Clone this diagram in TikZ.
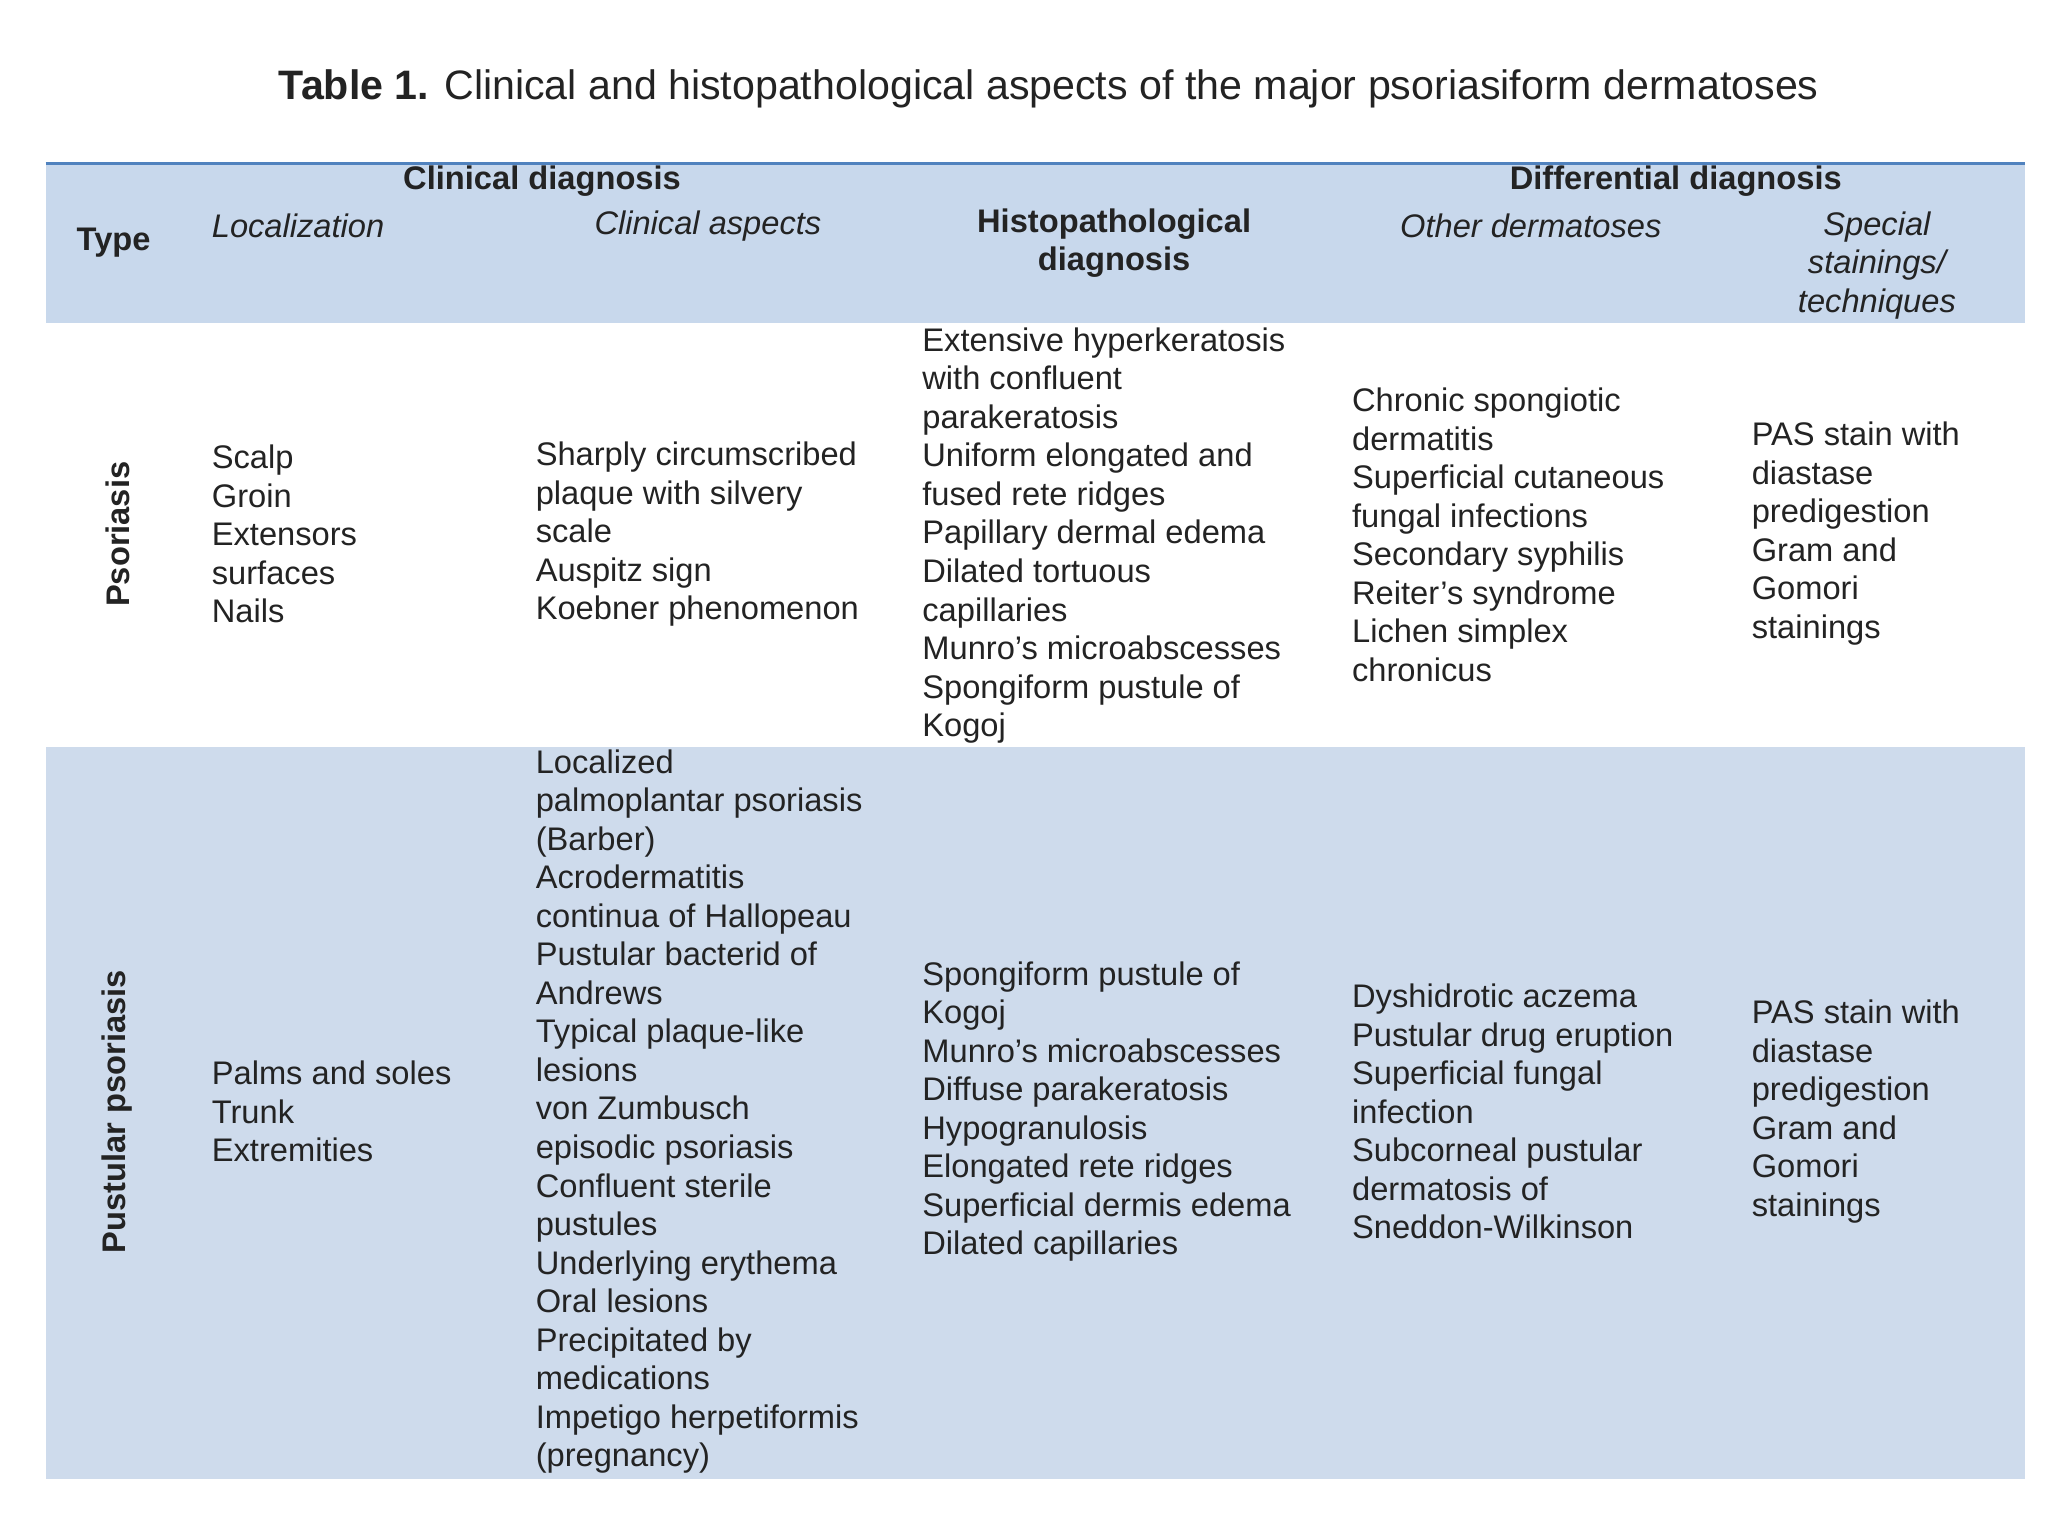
\documentclass[tikz,border=0pt]{standalone}
\usepackage{fontspec}
\setmainfont{Liberation Sans}
\definecolor{hdr}{RGB}{200,216,236}
\definecolor{band}{RGB}{206,219,236}
\definecolor{rule}{RGB}{80,130,190}
\definecolor{ink}{RGB}{35,35,35}
\tikzset{
 cell/.style={anchor=west,align=left,inner sep=0pt,font=\fontsize{25}{29.5}\selectfont,text=ink},
 hd/.style={align=center,inner sep=0pt,font=\fontsize{25}{29.5}\selectfont,text=ink},
 rot/.style={rotate=90,inner sep=0pt,font=\bfseries\fontsize{25}{29.5}\selectfont,text=ink}
}
\begin{document}
\begin{tikzpicture}[x=1pt,y=-1pt]
\useasboundingbox (0,0) rectangle (1568,1176);
\fill[white] (0,0) rectangle (1568,1176);
\node[hd,font=\fontsize{31.5}{32}\selectfont] (title) at (803,68) {\textbf{Table 1.} Clinical and histopathological aspects of the major psoriasiform dermatoses};
\fill[hdr] (35,125) rectangle (1550,247);
\draw[rule,line width=2.5pt] (35,125) -- (1550,125);
\fill[band] (35,572) rectangle (1550,1132);
\node[hd,font=\bfseries\fontsize{25}{29.5}\selectfont] (cd) at (415,139) {Clinical diagnosis};
\node[hd,font=\bfseries\fontsize{25}{29.5}\selectfont] (dd) at (1283,139) {Differential diagnosis};
\node[hd,font=\bfseries\fontsize{25}{29.5}\selectfont] (ty) at (87,186) {Type};
\node[hd,anchor=west,font=\itshape\fontsize{25}{29.5}\selectfont] (lo) at (162,173) {Localization};
\node[hd,font=\itshape\fontsize{25}{29.5}\selectfont] (ca) at (542,173) {Clinical aspects};
\node[hd,font=\bfseries\fontsize{25}{29.5}\selectfont] (hi) at (853,186) {Histopathological\\diagnosis};
\node[hd,font=\itshape\fontsize{25}{29.5}\selectfont] (od) at (1172,173) {Other dermatoses};
\node[hd,font=\itshape\fontsize{25}{29.5}\selectfont] (ss) at (1437,203) {Special\\stainings/\\techniques};
\node[rot] (r1) at (90,409) {Psoriasis};
\node[rot] (r2) at (90,851) {Pustular psoriasis};
\node[cell] (a1) at (162,409) {Scalp\\Groin\\Extensors\\surfaces\\Nails};
\node[cell] (b1) at (410,409) {Sharply circumscribed\\plaque with silvery\\scale\\Auspitz sign\\Koebner phenomenon};
\node[cell] (c1) at (706,410) {Extensive hyperkeratosis\\with confluent\\parakeratosis\\Uniform elongated and\\fused rete ridges\\Papillary dermal edema\\Dilated tortuous\\capillaries\\Munro's microabscesses\\Spongiform pustule of\\Kogoj};
\node[cell] (d1) at (1035,409.5) {Chronic spongiotic\\dermatitis\\Superficial cutaneous\\fungal infections\\Secondary syphilis\\Reiter's syndrome\\Lichen simplex\\chronicus};
\node[cell] (e1) at (1341,408.5) {PAS stain with\\diastase\\predigestion\\Gram and\\Gomori\\stainings};
\node[cell] (a2) at (162,851) {Palms and soles\\Trunk\\Extremities};
\node[cell] (b2) at (410,851) {Localized\\palmoplantar psoriasis\\(Barber)\\Acrodermatitis\\continua of Hallopeau\\Pustular bacterid of\\Andrews\\Typical plaque-like\\lesions\\von Zumbusch\\episodic psoriasis\\Confluent sterile\\pustules\\Underlying erythema\\Oral lesions\\Precipitated by\\medications\\Impetigo herpetiformis\\(pregnancy)};
\node[cell] (c2) at (706,851) {Spongiform pustule of\\Kogoj\\Munro's microabscesses\\Diffuse parakeratosis\\Hypogranulosis\\Elongated rete ridges\\Superficial dermis edema\\Dilated capillaries};
\node[cell] (d2) at (1035,851) {Dyshidrotic aczema\\Pustular drug eruption\\Superficial fungal\\infection\\Subcorneal pustular\\dermatosis of\\Sneddon-Wilkinson};
\node[cell] (e2) at (1341,851) {PAS stain with\\diastase\\predigestion\\Gram and\\Gomori\\stainings};
\end{tikzpicture}
\end{document}
